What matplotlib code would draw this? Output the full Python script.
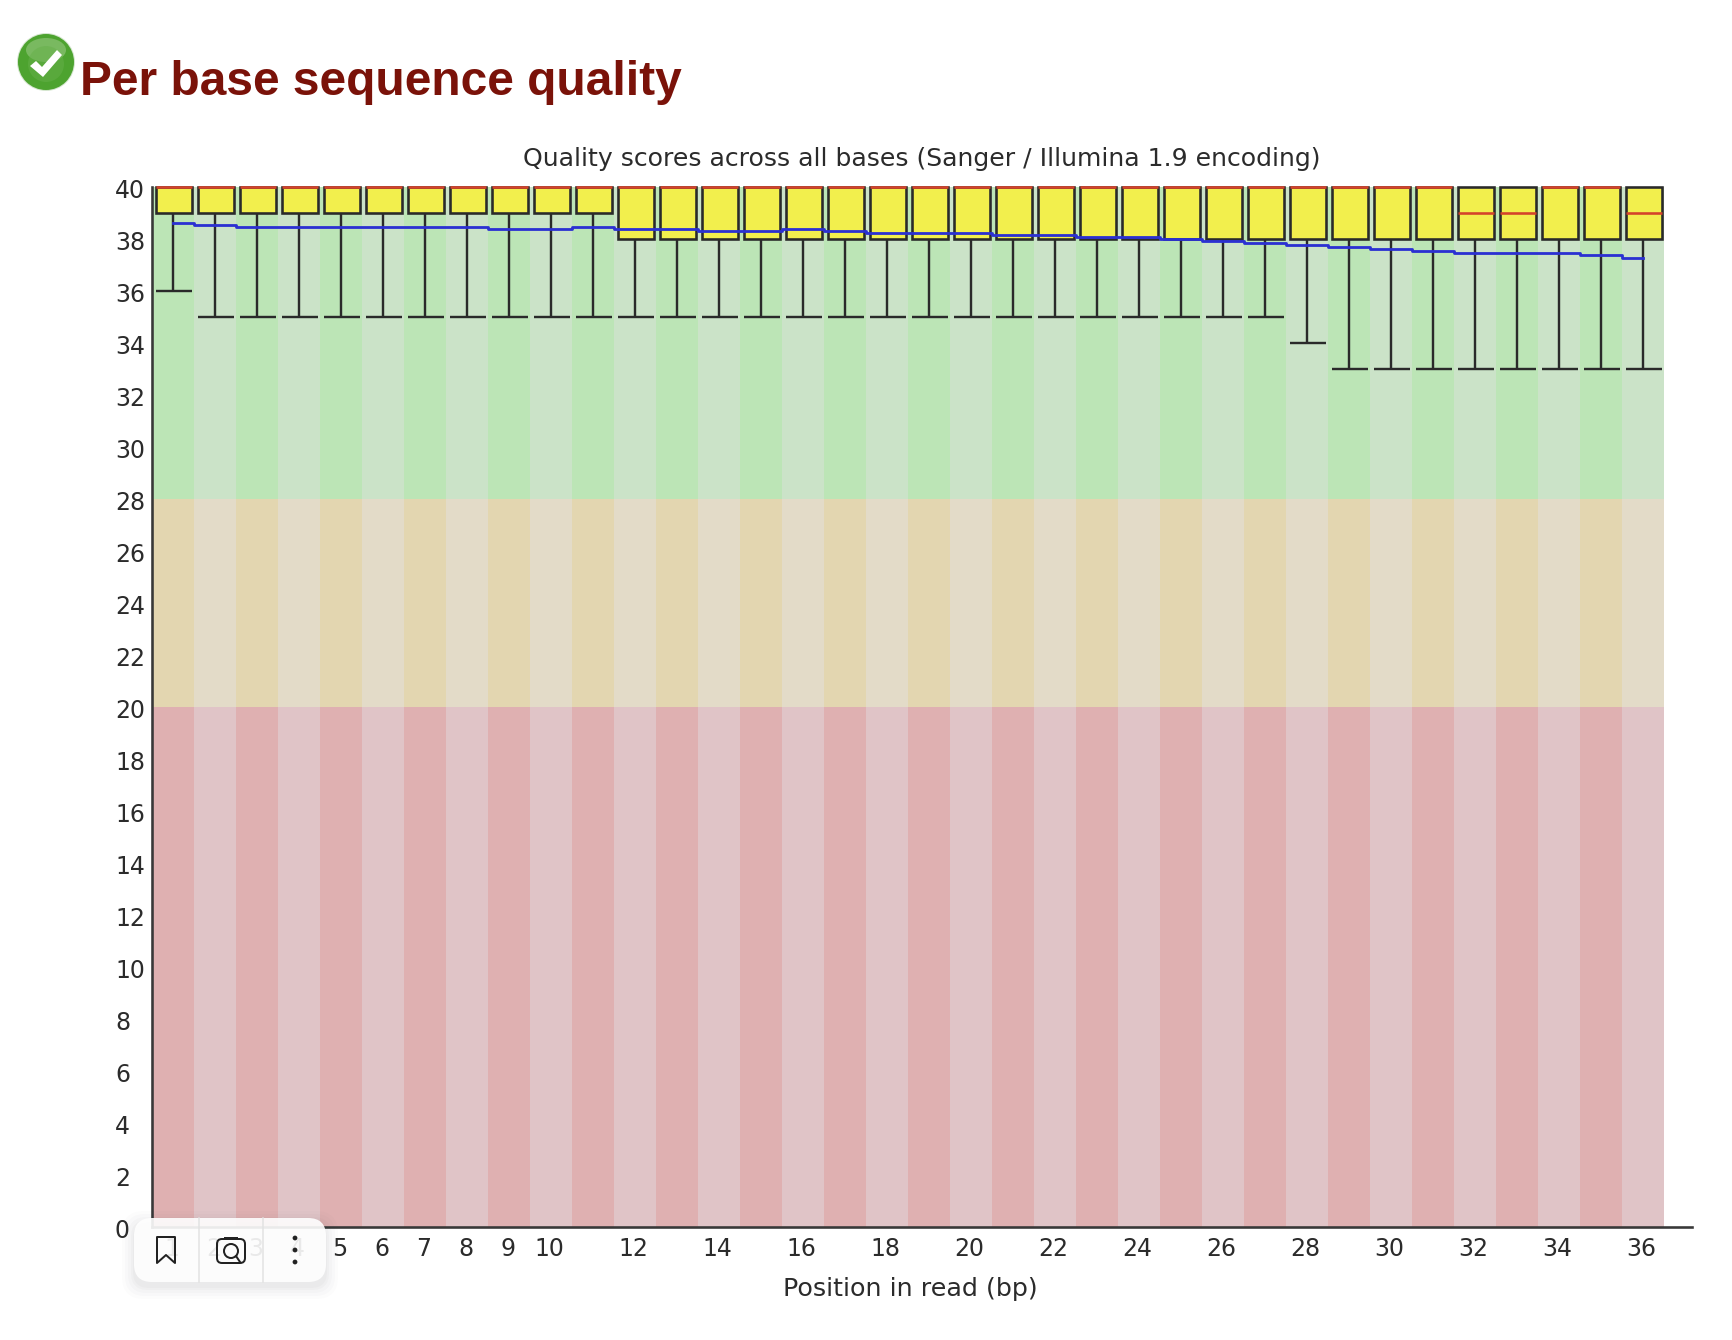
import numpy as np
import matplotlib
matplotlib.use("Agg")
import matplotlib.pyplot as plt
from matplotlib.patches import Circle, Ellipse, FancyBboxPatch, Polygon, Rectangle
from matplotlib.transforms import ScaledTranslation

W, H = 1732, 1340
DPI = 100

# FastQC values
positions = list(range(1, 37))
q1 = [39] * 11 + [38] * 25
q3 = [40] * 36
median = [40] * 31 + [39, 39, 40, 40, 39]
whisker_low = [36] + [35] * 26 + [34] + [33] * 8
whisker_high = [40] * 36
mean = [38.62, 38.54, 38.46, 38.46, 38.46, 38.46, 38.46, 38.46, 38.38, 38.38,
        38.46, 38.38, 38.38, 38.31, 38.31, 38.38, 38.31, 38.23, 38.23, 38.23,
        38.15, 38.15, 38.08, 38.08, 38.00, 37.92, 37.85, 37.77, 37.69, 37.62,
        37.54, 37.46, 37.46, 37.46, 37.38, 37.27]

zone_edges = [0, 20, 28, 40]
zone_dark = ["#dfb0b1", "#e3d6b0", "#bce5b6"]
zone_light = ["#e0c4c7", "#e3dbc8", "#cbe3c8"]

y_ticks = list(range(0, 41, 2))
x_ticks = list(range(1, 11)) + list(range(12, 37, 2))

heading = "Per base sequence quality"
title = "Quality scores across all bases (Sanger / Illumina 1.9 encoding)"
xlabel = "Position in read (bp)"

px = 72 / DPI  # one pixel in points
text_col = "#2b2b2b"
line_col = "#2a2a2a"

fig = plt.figure(figsize=(W / DPI, H / DPI), dpi=DPI, facecolor="white")

# plot area in pixels: x 152-1692, y 187-1227
ax = fig.add_axes([152 / W, 1 - 1227 / H, 1540 / W, 1040 / H])
ax.set_xlim(0.5, 0.5 + 1540 / 42)
ax.set_ylim(0, 40)
ax.set_facecolor("white")

pos = np.array(positions)

# background stripes
for k in range(3):
    cols = [zone_dark[k] if p % 2 == 1 else zone_light[k] for p in positions]
    ax.bar(pos, zone_edges[k + 1] - zone_edges[k], width=1.0, bottom=zone_edges[k],
           color=cols, linewidth=0, zorder=1)

# whiskers
ax.vlines(pos, whisker_low, q1, color=line_col, lw=2.4 * px, zorder=3)
ax.hlines(whisker_low, pos - 0.40, pos + 0.45, color=line_col, lw=2.4 * px, zorder=3)

# boxes
box_h = np.array(q3) - np.array(q1)
ax.bar(pos + 0.025, box_h, width=0.84, bottom=q1, color="#f2ef4d", edgecolor=line_col,
       linewidth=2.6 * px, zorder=4, clip_on=False)
ax.hlines(median, pos - 0.40, pos + 0.45, color="#d4432b", lw=2.6 * px, zorder=5, clip_on=False)

# mean line
ax.plot(pos, mean, drawstyle="steps-mid", color="#2b30d2", lw=2.8 * px, zorder=6)

for s in ["top", "right"]:
    ax.spines[s].set_visible(False)
for s in ["left", "bottom"]:
    ax.spines[s].set_color("#383838")
    ax.spines[s].set_linewidth(2.6 * px)
    ax.spines[s].set_zorder(7)

ax.set_yticks(y_ticks)
ax.set_xticks(x_ticks)
ax.tick_params(axis="both", length=0, labelsize=17, labelcolor=text_col)
ax.tick_params(axis="y", pad=37 * px)
ax.tick_params(axis="x", pad=10 * px)
shift_y = ScaledTranslation(0, -2 / DPI, fig.dpi_scale_trans)
for lab in ax.get_yticklabels():
    lab.set_ha("left")
    lab.set_transform(lab.get_transform() + shift_y)
shift_x = ScaledTranslation(-1.5 / DPI, 0, fig.dpi_scale_trans)
for lab in ax.get_xticklabels():
    lab.set_transform(lab.get_transform() + shift_x)

ax.set_title(title, fontsize=18.05, color=text_col, pad=21 * px)
ax.set_xlabel(xlabel, fontsize=18.3, color=text_col)
ax.xaxis.set_label_coords((910 - 152) / 1540, -(1277 - 1227) / 1040)

# overlay in image pixels for heading, status icon and the browser toolbar
ov = fig.add_axes([0, 0, 1, 1], zorder=10)
ov.set_xlim(0, W)
ov.set_ylim(H, 0)
ov.axis("off")
ov.patch.set_alpha(0)

ov.text(80, 95, heading, family="Liberation Sans", fontweight="bold", fontsize=34.5,
        color="#7a1209", ha="left", va="baseline")

# status icon
ov.add_patch(Circle((46, 62), 29, fc="#d5e6cf", ec="none"))
ov.add_patch(Circle((46, 62), 28, fc="#4da32f", ec="none"))
ov.add_patch(Ellipse((46, 50), 40, 24, fc="#a5d092", ec="none", alpha=0.5))
ov.add_patch(Circle((46, 64), 18, fc="#66b04a", ec="none", alpha=0.5))
ov.add_patch(Polygon([(30, 66), (36, 61), (42, 67), (57, 50), (62, 55), (43, 77)],
                     closed=True, fc="white", ec="none"))

# toolbar shadow, body and icons
for grow, a in [(12, 0.012), (9, 0.015), (6, 0.02), (3, 0.025), (1, 0.025)]:
    ov.add_patch(FancyBboxPatch((150 - grow, 1234 - grow + 5), 160 + 2 * grow, 32 + 2 * grow,
                                boxstyle="round,pad=16,rounding_size=%d" % (16 + grow // 2),
                                fc="#303840", ec="none", alpha=a))
ov.add_patch(FancyBboxPatch((150, 1234), 160, 32, boxstyle="round,pad=16,rounding_size=18",
                            fc="white", ec="none", alpha=0.9))
ov.plot([199, 199], [1218, 1282], color="#e2e2e2", lw=1.5 * px)
ov.plot([263, 263], [1218, 1282], color="#e2e2e2", lw=1.5 * px)

ov.add_patch(Polygon([(157, 1237), (175, 1237), (175, 1263), (166, 1255), (157, 1263)],
                     closed=True, fc="none", ec="#222222", lw=2 * px, joinstyle="round"))
ov.add_patch(FancyBboxPatch((219, 1241), 24, 20, boxstyle="round,pad=2,rounding_size=5",
                            fc="none", ec="#222222", lw=2 * px))
ov.add_patch(Rectangle((224, 1237), 14, 3, fc="#222222", ec="none"))
ov.add_patch(Circle((231, 1251), 7, fc="none", ec="#222222", lw=2 * px))
ov.plot([236, 240], [1256, 1262], color="#222222", lw=2 * px)
for dot_y in [1238, 1250, 1262]:
    ov.add_patch(Circle((295, dot_y), 2.4, fc="#222222", ec="none"))

fig.savefig("out.png", dpi=DPI)
